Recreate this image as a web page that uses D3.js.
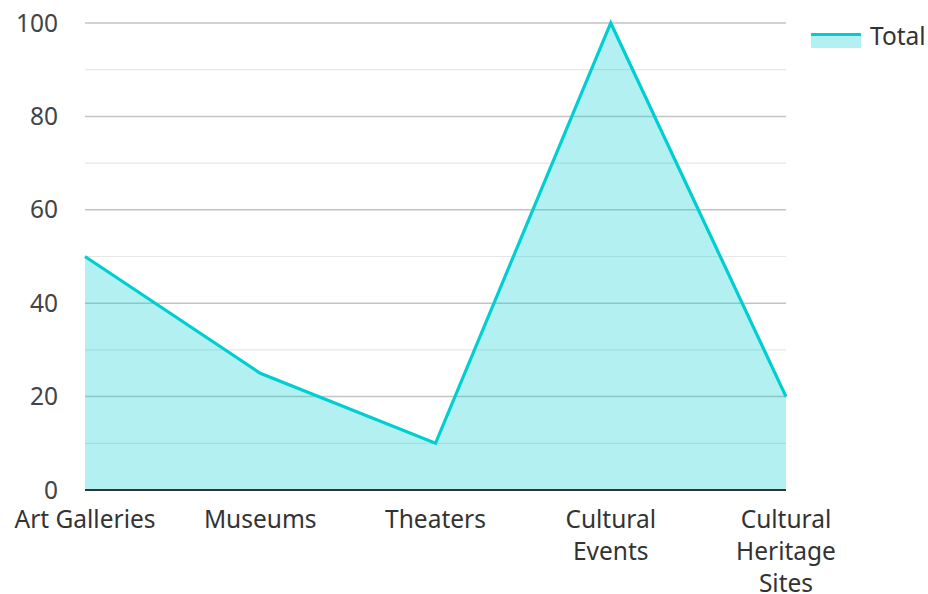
<!DOCTYPE html>
<html><head><meta charset="utf-8">
<script src="https://cdn.jsdelivr.net/npm/d3@7"></script>
<style>body{margin:0;background:#fff;} text{font-family:"Noto Sans",sans-serif;}</style>
</head><body><svg id="c" width="928" height="594"></svg>
<script>
const categories = ["Art Galleries","Museums","Theaters","Cultural Events","Cultural Heritage Sites"];
const categoryLines = [["Art Galleries"],["Museums"],["Theaters"],["Cultural","Events"],["Cultural","Heritage","Sites"]];
const values = [50,25,10,100,20];
const majorTicks = [0,20,40,60,80,100];
const minorTicks = [10,30,50,70,90];
const seriesName = "Total";

(function(){
const svg = d3.select("#c");
const mL = 85, mR = 786, mT = 23, mB = 490;
const x = d3.scalePoint().domain(categories).range([mL, mR]);
const y = d3.scaleLinear().domain([0,100]).range([mB, mT]);
const color = "#00CED1";
const fs = 24.5;

// gridlines
svg.append("g").selectAll("line").data(minorTicks).join("line")
  .attr("x1", mL).attr("x2", mR).attr("y1", d=>y(d)).attr("y2", d=>y(d))
  .attr("stroke", "#e6e6e6").attr("stroke-width", 1.2);
svg.append("g").selectAll("line").data(majorTicks.filter(d=>d>0)).join("line")
  .attr("x1", mL).attr("x2", mR).attr("y1", d=>y(d)).attr("y2", d=>y(d))
  .attr("stroke", "#c4c4c4").attr("stroke-width", 1.5);

// y labels
svg.append("g").selectAll("text").data(majorTicks).join("text")
  .attr("x", 58).attr("y", d=>y(d)).attr("dy","0.35em").attr("text-anchor","end")
  .attr("font-size", fs).attr("fill", "#444").text(d=>d);

// area
const area = d3.area().x((d,i)=>x(categories[i])).y0(y(0)).y1(d=>y(d));
svg.append("path").datum(values).attr("d", area).attr("fill", color).attr("fill-opacity", 0.3);
const line = d3.line().x((d,i)=>x(categories[i])).y(d=>y(d));
svg.append("path").datum(values).attr("d", line).attr("fill","none").attr("stroke", color).attr("stroke-width", 3.2);

// baseline
svg.append("line").attr("x1", mL).attr("x2", mR).attr("y1", y(0)).attr("y2", y(0))
  .attr("stroke", "#333").attr("stroke-width", 2);

// x labels
const xl = svg.append("g").selectAll("text").data(categories).join("text")
  .attr("x", d=>x(d)).attr("y", 519).attr("text-anchor","middle")
  .attr("font-size", fs).attr("fill", "#333");
xl.each(function(d,i){
  const t = d3.select(this);
  categoryLines[i].forEach((s,j)=>{
    t.append("tspan").attr("x", x(d)).attr("y", 519 + j*32).attr("dy","0.35em").text(s);
  });
});

// legend
const lg = svg.append("g");
lg.append("rect").attr("x", 811).attr("y", 33).attr("width", 50).attr("height", 15).attr("fill", color).attr("fill-opacity", 0.3);
lg.append("line").attr("x1", 811).attr("x2", 861).attr("y1", 34.5).attr("y2", 34.5).attr("stroke", color).attr("stroke-width", 3);
lg.append("text").attr("x", 870).attr("y", 36).attr("dy","0.35em").attr("font-size", fs).attr("fill", "#333").text(seriesName);
})();
</script></body></html>
